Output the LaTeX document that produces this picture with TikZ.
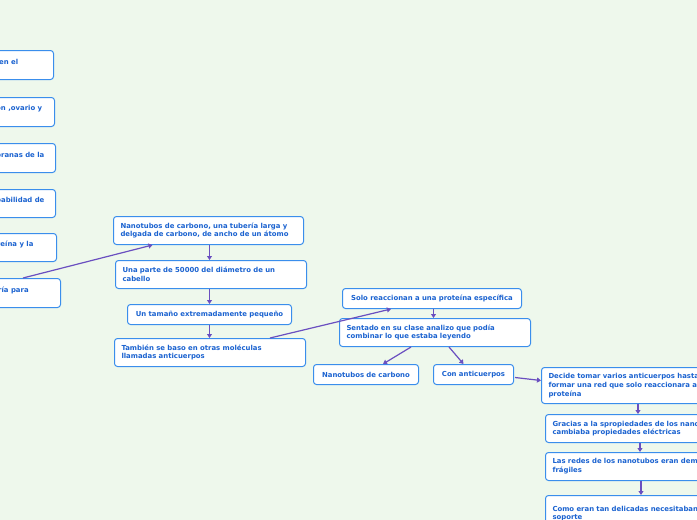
\documentclass[tikz,border=0pt]{standalone}
\usepackage{fontspec}
\setmainfont{DejaVu Sans}
\usetikzlibrary{arrows.meta,calc}
\definecolor{bgc}{HTML}{EEF8EC}
\definecolor{bordc}{HTML}{3A8EEC}
\definecolor{txtc}{HTML}{1A62D0}
\definecolor{arrc}{HTML}{6A4FC0}
\tikzset{
  box/.style={draw=bordc, line width=1pt, fill=white, rounded corners=3pt, anchor=north west,
    inner sep=0pt, font=\bfseries\fontsize{6.9}{8.8}\selectfont, text=txtc, align=left},
  frag/.style={anchor=west, inner sep=0pt, font=\bfseries\fontsize{6.9}{8.8}\selectfont, text=txtc},
  conn/.style={draw=arrc, line width=1.2pt, -{Triangle[length=4pt,width=5pt]}},
  line/.style={draw=arrc, line width=1.2pt}
}
\begin{document}
\begin{tikzpicture}[x=1pt,y=-1pt]
\fill[bgc] (0,0) rectangle (697,520);
\useasboundingbox (0,0) rectangle (697,520);
\clip (0,0) rectangle (697,520);
% left column (cut off)
\node[box, minimum width=153pt, minimum height=29pt] (L1) at (-100,50) {};
\node[box, minimum width=154pt, minimum height=29pt] (L2) at (-100,97) {};
\node[box, minimum width=155pt, minimum height=29pt] (L3) at (-100,143) {};
\node[box, minimum width=155pt, minimum height=28pt] (L4) at (-100,189) {};
\node[box, minimum width=156pt, minimum height=28pt] (L5) at (-100,233) {};
\node[box, minimum width=160pt, minimum height=29pt] (L6) at (-100,278) {};
\node[frag] (t1) at (-1,62) {en el};
\node[frag] (t2) at (-4,109) {on ,ovario y};
\node[frag] (t3) at (-4,155) {branas de la};
\node[frag] (t4) at (-4,200) {babilidad de};
\node[frag] (t5) at (-3,244) {teína y la};
\node[frag] (t6) at (-2,290) {ría para};
% middle column
\node[box, minimum width=190pt, minimum height=28pt, text width=176pt] (A) at (113,216)
  {Nanotubos de carbono, una tubería larga y\\delgada de carbono, de ancho de un átomo};
\node[box, minimum width=191pt, minimum height=28pt, text width=177pt] (B) at (115,260)
  {Una parte de 50000 del diámetro de un\\cabello};
\node[box, minimum width=164pt, minimum height=20pt, text width=150pt, align=center] (C) at (127,304)
  {Un tamaño extremadamente pequeño};
\node[box, minimum width=191pt, minimum height=28pt, text width=177pt] (D) at (114,338)
  {También se baso en otras moléculas\\llamadas anticuerpos};
% right-middle
\node[box, minimum width=179pt, minimum height=20pt, text width=165pt, align=center] (E) at (342,288)
  {Solo reaccionan a una proteína específica};
\node[box, minimum width=191pt, minimum height=28pt, text width=177pt] (F) at (339,318)
  {Sentado en su clase analizo que podía\\combinar lo que estaba leyendo};
\node[box, minimum width=105pt, minimum height=20pt, text width=91pt, align=center] (G) at (313,364)
  {Nanotubos de carbono};
\node[box, minimum width=80pt, minimum height=20pt, text width=66pt, align=center] (H) at (433,364)
  {Con anticuerpos};
% right column (cut off)
\node[box, minimum width=220pt, minimum height=36pt, text width=206pt] (I) at (541,367)
  {Decide tomar varios anticuerpos hasta\\formar una red que solo reaccionara a la\\proteína};
\node[box, minimum width=220pt, minimum height=28pt, text width=206pt] (J) at (545,414)
  {Gracias a la spropiedades de los nanotubos\\cambiaba propiedades eléctricas};
\node[box, minimum width=220pt, minimum height=28pt, text width=206pt] (K) at (545,452)
  {Las redes de los nanotubos eran demasiado\\frágiles};
\node[box, minimum width=220pt, minimum height=36pt, text width=206pt] (L) at (545,495)
  {Como eran tan delicadas necesitaban un\\soporte};
% connectors
\draw[conn] ([xshift=-38pt]L6.north east) -- ([xshift=-56pt]A.south);
\draw[conn] ([xshift=1pt]A.south) -- ([xshift=1pt]A.south |- B.north);
\draw[conn] (C.north |- B.south) -- (C.north);
\draw[conn] (C.south) -- (C.south |- D.north);
\draw[conn] ([xshift=60pt]D.north) -- ([xshift=-41pt]E.south);
\draw[conn] ([xshift=1.5pt]E.south) -- ([xshift=1.5pt]E.south |- F.north);
\draw[conn] ([xshift=-24pt]F.south) -- ([xshift=17pt]G.north);
\draw[conn] ([xshift=14pt]F.south) -- ([xshift=-10pt]H.north);
\draw[conn] ([xshift=1pt,yshift=-3pt]H.east) -- ([yshift=5pt]I.west);
\coordinate (i1) at ([xshift=97pt]I.south west);
\draw[conn] (i1) -- (i1 |- J.north);
\coordinate (j1) at ([xshift=95pt]J.south west);
\draw[conn] (j1) -- (j1 |- K.north);
\coordinate (k1) at ([xshift=96pt]K.south west);
\draw[conn] (k1) -- (k1 |- L.north);
\end{tikzpicture}
\end{document}
